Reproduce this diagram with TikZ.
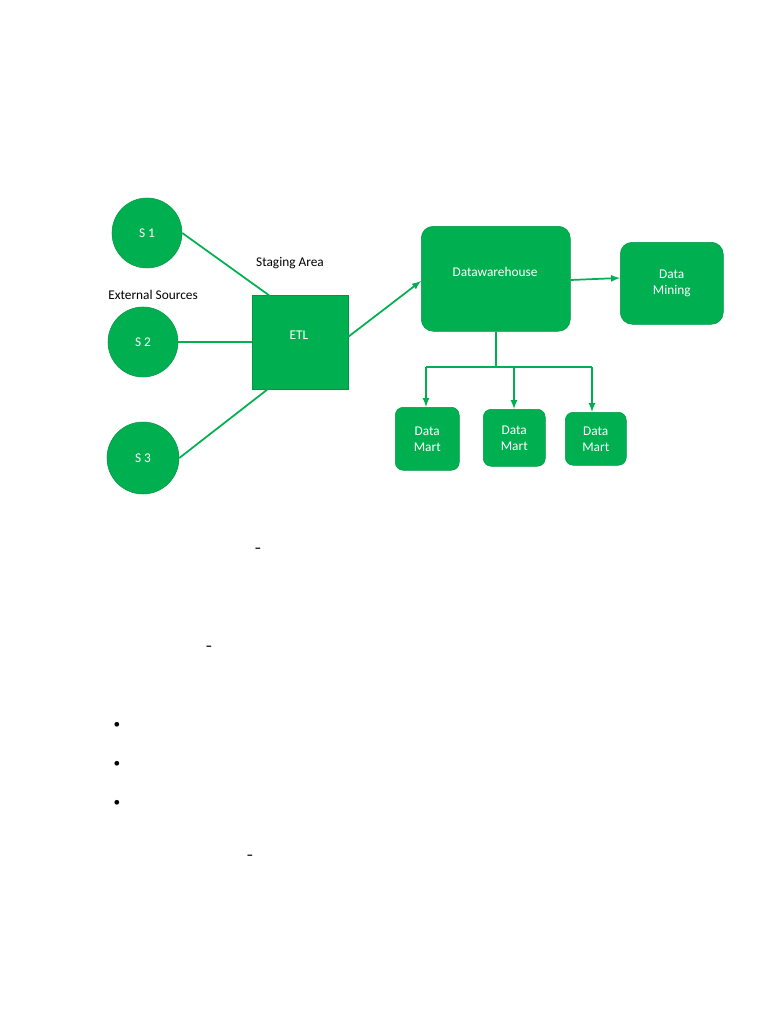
\documentclass[tikz,border=0pt]{standalone}
\usepackage{fontspec}
\setmainfont{Carlito}
\begin{document}
\begin{tikzpicture}[x=0.75pt,y=-0.75pt]
\definecolor{gr}{HTML}{00B050}
\tikzset{
 src/.style={circle,fill=gr,draw=gr!85!black,minimum size=70*0.75pt,inner sep=0pt,text=white,font=\fontsize{10}{12}\selectfont},
 box/.style={fill=gr,draw=gr!85!black,text=white,align=center,font=\fontsize{10}{12}\selectfont,inner sep=0pt},
 rbox/.style={box,rounded corners=9pt},
 ln/.style={gr,line width=1.3pt},
 arr/.style={ln,-latex},
 lbl/.style={font=\fontsize{10}{12}\selectfont}
}
\useasboundingbox (0,0) rectangle (768,1024);
\node[src] (s1) at (147,233) {S 1};
\node[src] (s2) at (143,342) {S 2};
\node[src,minimum size=72*0.75pt] (s3) at (143,458) {S 3};
\node[box,minimum width=96*0.75pt,minimum height=94*0.75pt,anchor=north west] (etl) at (252,295) {};
\node[box,draw=none,fill=none] at (299,335) {ETL};
\node[lbl] (stg) at (290,263) {Staging Area};
\node[lbl] (ext) at (153,295) {External Sources};
\node[rbox,minimum width=149*0.75pt,minimum height=105*0.75pt,anchor=north west] (dw) at (421,226) {};
\node[box,draw=none,fill=none] at (495,272) {Datawarehouse};
\node[rbox,minimum width=103*0.75pt,minimum height=82*0.75pt,anchor=north west] (dm) at (620,242) {Data\\Mining};
\node[rbox,minimum width=64*0.75pt,minimum height=63*0.75pt,anchor=north west,rounded corners=6pt] (m1) at (395,407) {Data\\Mart};
\node[rbox,minimum width=62*0.75pt,minimum height=57*0.75pt,anchor=north west,rounded corners=6pt] (m2) at (483,409) {Data\\Mart};
\node[rbox,minimum width=61*0.75pt,minimum height=53*0.75pt,anchor=north west,rounded corners=6pt] (m3) at (565,412) {Data\\Mart};
\coordinate (e1) at (270,296);
\coordinate (e3) at (268,389);
\draw[ln] (s1.east) -- (e1);
\draw[ln] (s2.east) -- (etl.west |- s2.east);
\draw[ln] (s3.east) -- (e3);
\draw[arr] (348,337) -- (dw.west |- 0,281);
\draw[arr] (dw.east |- 0,280) -- (dm.west |- 0,278);
\coordinate (j) at (496,367);
\draw[ln] (dw.south -| j) -- (j);
\draw[ln] (426,367) -- (592,367);
\draw[arr] (426,367) -- (m1.north -| 426,0);
\draw[arr] (514,367) -- (m2.north -| 514,0);
\draw[arr] (592,367) -- (m3.north -| 592,0);
\node[lbl] (d1) at (258,550) {\textbf{–}};
\node[lbl] (d2) at (209,648) {\textbf{–}};
\node[lbl] (d3) at (250,857) {\textbf{–}};
\foreach \y [count=\i] in {725,764,803} \node[lbl] (b\i) at (117,\y) {•};
\end{tikzpicture}
\end{document}
